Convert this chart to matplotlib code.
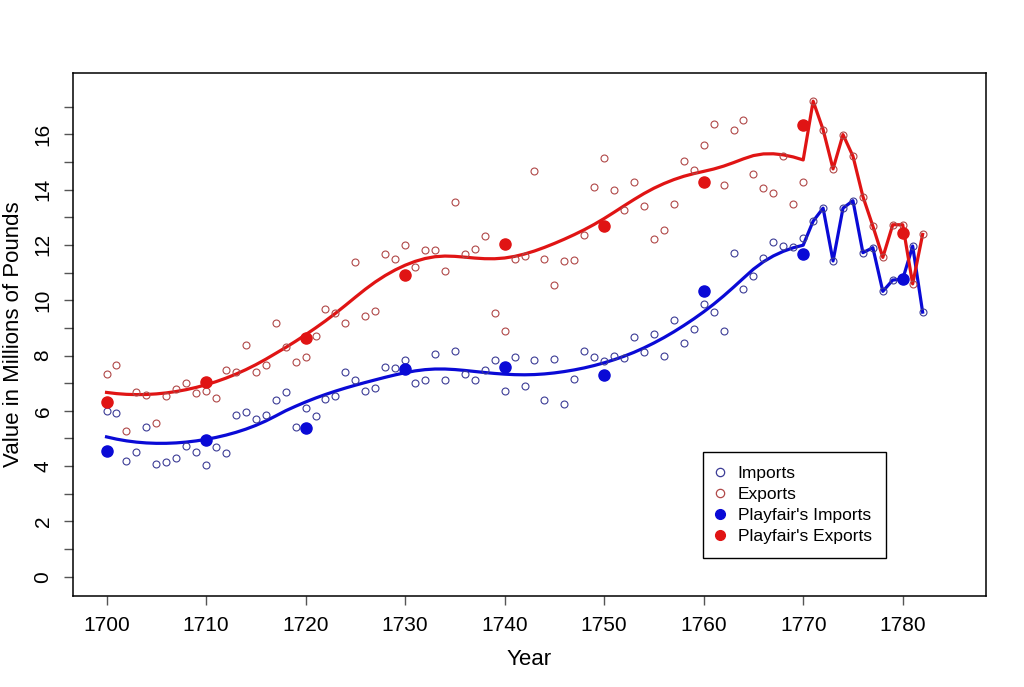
import matplotlib
matplotlib.use('Agg')
import matplotlib.pyplot as plt
from matplotlib.lines import Line2D
import numpy as np

plt.rcParams['font.family'] = 'Liberation Sans'

# Yearly trade data (millions of pounds), 1700-1782
years = np.arange(1700, 1783)
imports = [6.00, 5.91, 4.20, 4.52, 5.42, 4.08, 4.14, 4.31, 4.74, 4.52,
           4.04, 4.70, 4.48, 5.84, 5.96, 5.69, 5.84, 6.39, 6.69, 5.40,
           6.11, 5.81, 6.41, 6.55, 7.42, 7.11, 6.73, 6.81, 7.60, 7.55,
           7.82, 7.02, 7.12, 8.06, 7.12, 8.18, 7.34, 7.12, 7.46, 7.85,
           6.72, 7.95, 6.90, 7.82, 6.38, 7.89, 6.26, 7.15, 8.16, 7.95,
           7.81, 7.99, 7.91, 8.66, 8.11, 8.78, 7.99, 9.29, 8.46, 8.96,
           9.87, 9.57, 8.89, 11.71, 10.40, 10.89, 11.53, 12.09, 11.95, 11.92,
           12.25, 12.86, 13.33, 11.42, 13.33, 13.60, 11.72, 11.90, 10.32, 10.73,
           10.76, 11.96, 9.57]
exports = [7.33, 7.67, 5.28, 6.69, 6.58, 5.55, 6.55, 6.79, 6.99, 6.64,
           6.71, 6.47, 7.48, 7.39, 8.39, 7.41, 7.65, 9.16, 8.31, 7.75,
           7.95, 8.72, 9.68, 9.53, 9.17, 11.38, 9.43, 9.60, 11.67, 11.50,
           12.01, 11.19, 11.81, 11.81, 11.05, 13.57, 11.66, 11.87, 12.31, 9.53,
           8.90, 11.49, 11.60, 14.66, 11.48, 10.54, 11.41, 11.47, 12.37, 14.10,
           15.15, 13.98, 13.25, 14.28, 13.40, 12.20, 12.54, 13.48, 15.04, 14.72,
           15.62, 16.39, 14.15, 16.17, 16.52, 14.58, 14.06, 13.87, 15.23, 13.48,
           14.28, 17.20, 16.17, 14.75, 15.99, 15.21, 13.75, 12.68, 11.55, 12.73,
           12.73, 10.59, 12.38]

# Playfair's own figures, every ten years
pf_years = np.arange(1700, 1790, 10)
pf_imports = [4.56, 4.95, 5.39, 7.52, 7.59, 7.28, 10.32, 11.67, 10.75]
pf_exports = [6.33, 7.03, 8.62, 10.93, 12.05, 12.67, 14.28, 16.32, 12.44]

imports = np.array(imports)
exports = np.array(exports)


def loess(x, y, span):
    # local quadratic fit with tricube weights
    n = len(x)
    q = int(np.floor(span * n))
    fit = np.empty(n)
    for i, x0 in enumerate(x):
        d = np.abs(x - x0)
        h = np.sort(d)[q - 1]
        w = np.clip(1 - (d / h) ** 3, 0, None) ** 3
        X = np.vstack([np.ones(n), x - x0, (x - x0) ** 2]).T
        sw = np.sqrt(w)
        beta = np.linalg.lstsq(X * sw[:, None], y * sw, rcond=None)[0]
        fit[i] = beta[0]
    return fit


# smooth up to 1770, then follow the yearly values
yrs = years.astype(float)
cut = np.where(years == 1770)[0][0]
span = 0.45
imp_line = np.concatenate([loess(yrs, imports, span)[:cut + 1], imports[cut + 1:]])
exp_line = np.concatenate([loess(yrs, exports, span)[:cut + 1], exports[cut + 1:]])

fig = plt.figure(figsize=(10.24, 6.87), dpi=100)
ax = fig.add_axes([0.071, 0.132, 0.8922, 0.7622])

blue = '#0a0ad6'
red = '#e01414'
imp_c = '#3c3c96'
exp_c = '#b04848'

ax.plot(years, imp_line, color=blue, lw=2.3, zorder=2)
ax.plot(years, exp_line, color=red, lw=2.3, zorder=2)
ax.plot(years, imports, 'o', mfc='none', mec=imp_c, ms=5, mew=0.8, zorder=3)
ax.plot(years, exports, 'o', mfc='none', mec=exp_c, ms=5, mew=0.8, zorder=3)
ax.plot(pf_years, pf_imports, 'o', color=blue, ms=8, zorder=4)
ax.plot(pf_years, pf_exports, 'o', color=red, ms=8, zorder=4)

ax.set_xlim(1696.6, 1788.4)
ax.set_ylim(-0.71, 18.23)
ax.set_xticks(np.arange(1700, 1790, 10))
ax.set_yticks(np.arange(0, 18, 1))
ax.set_yticklabels([str(v) if v % 2 == 0 else '' for v in range(0, 18)], rotation=90, va='center')
ax.tick_params(direction='out', length=6.5, width=1, color='#555555', labelsize=15, pad=8)

for s in ax.spines.values():
    s.set_linewidth(1.1)
    s.set_color('black')

ax.set_xlabel('Year', fontsize=16, labelpad=10)
ax.set_ylabel('Value in Millions of Pounds', fontsize=16, labelpad=7)

handles = [
    Line2D([], [], ls='none', marker='o', mfc='none', mec=imp_c, ms=6, mew=0.9),
    Line2D([], [], ls='none', marker='o', mfc='none', mec=exp_c, ms=6, mew=0.9),
    Line2D([], [], ls='none', marker='o', color=blue, ms=7),
    Line2D([], [], ls='none', marker='o', color=red, ms=7),
]
labels = ['Imports', 'Exports', "Playfair's Imports", "Playfair's Exports"]
leg = ax.legend(handles, labels, loc='lower left', bbox_to_anchor=(0.690, 0.073),
                fontsize=12.5, frameon=True, fancybox=False, framealpha=1,
                edgecolor='black', handlelength=0.4, handletextpad=0.8,
                labelspacing=0.34, borderpad=0.8, borderaxespad=0)
leg.get_frame().set_linewidth(1.0)

fig.savefig('out.png', dpi=100)
